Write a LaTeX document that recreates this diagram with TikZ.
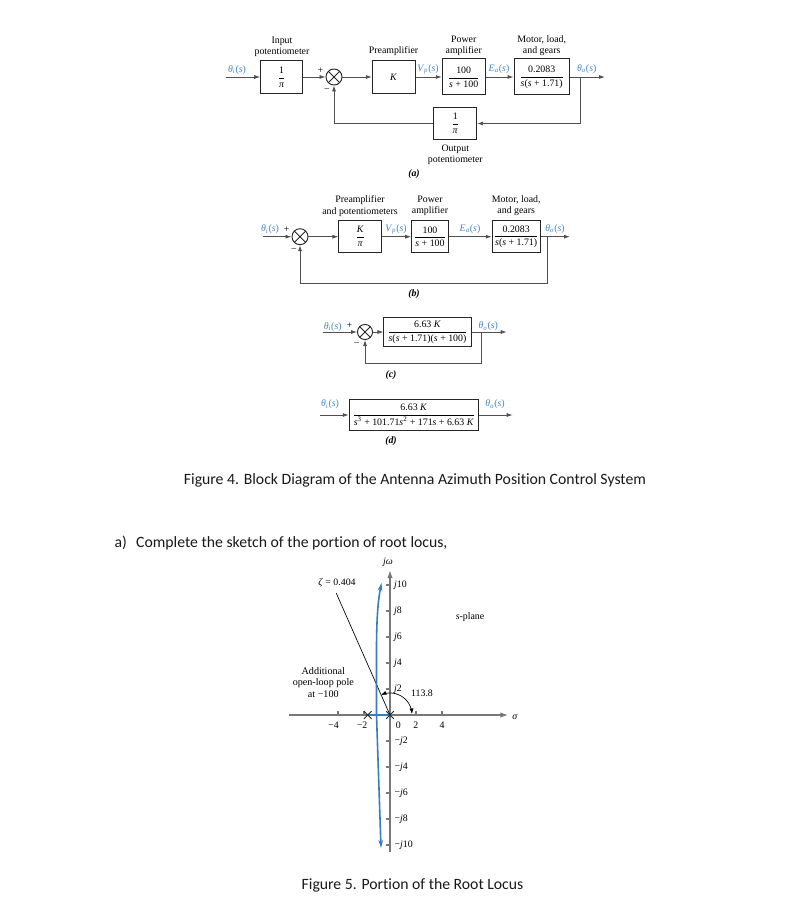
\documentclass[tikz,border=0pt]{standalone}
\usepackage{fontspec}
\setmainfont{Liberation Serif}
\newfontfamily\capfont[Ligatures={NoCommon}]{Carlito}
\usetikzlibrary{arrows.meta,shapes.misc}
\definecolor{sig}{RGB}{70,135,195}
\definecolor{loc}{RGB}{55,125,190}
\definecolor{conn}{RGB}{80,80,80}
\definecolor{axg}{RGB}{120,120,120}
\newcommand\sg[2]{\textcolor{sig}{\textit{#1}\textsubscript{\textit{#2}}(\textit{s})}}
\newcommand\fr[2]{$\displaystyle\frac{\mbox{#1}}{\mbox{#2}}$}
\tikzset{
  every node/.style={font=\fontsize{7.4}{8.6}\selectfont, inner sep=1pt},
  blk/.style={draw=black!85, line width=0.75pt, inner sep=1pt},
  lbl/.style={align=center, font=\fontsize{7.4}{8.4}\selectfont},
  sumj/.style={circle, draw=black!85, line width=0.7pt, minimum size=12pt, inner sep=0pt,
    path picture={\draw[black!85, line width=0.6pt]
      (path picture bounding box.north west) -- (path picture bounding box.south east)
      (path picture bounding box.north east) -- (path picture bounding box.south west);}},
  arr/.style={draw=conn, line width=0.6pt, -{Latex[length=4.5pt,width=3pt]}},
  ln/.style={draw=conn, line width=0.6pt},
  axis/.style={draw=axg, line width=1pt},
  pole/.style={cross out, draw=black!85, minimum size=5pt, inner sep=0pt, line width=0.7pt},
  locus/.style={draw=loc, line width=1.2pt},
  captxt/.style={font=\capfont\fontsize{11.8}{14}\selectfont, text=black!90},
}
\begin{document}
\begin{tikzpicture}[x=0.75pt,y=-0.75pt]
\fill[white] (0,0) rectangle (812,898);
\useasboundingbox (0,0) rectangle (812,898);

% ---------------- (a) ----------------
\node[blk, minimum width=31.5pt, minimum height=25pt] (ipot) at (281.7,77) {\fr{1}{\textit{π}}};
\node[sumj] (suma) at (334,77) {};
\node[blk, minimum width=32pt, minimum height=25pt] (pre) at (393.7,77) {\textit{K}};
\node[blk, minimum width=32pt, minimum height=27pt] (pamp) at (463.7,77) {\fr{100}{\textit{s} + 100}};
\node[blk, minimum width=41.5pt, minimum height=27pt] (mot) at (541.7,77) {\fr{0.2083}{\textit{s}(\textit{s} + 1.71)}};
\node[blk, minimum width=32pt, minimum height=24.5pt] (opot) at (455.3,123.5) {\fr{1}{\textit{π}}};
\coordinate (ain) at (226,77);
\coordinate (abr) at (580.7,77);
\coordinate (aout) at (605,77);
\draw[arr] (ain) -- (ipot);
\draw[arr] (ipot) -- (suma);
\draw[arr] (suma) -- (pre);
\draw[arr] (pre) -- (pamp);
\draw[arr] (pamp) -- (mot);
\draw[arr] (mot) -- (aout);
\draw[arr] (abr) |- (opot);
\draw[arr] (opot) -| (suma);
\node[lbl] (la1) at (282,46.5) {Input\\potentiometer};
\node[lbl] (la2) at (393.5,51.5) {Preamplifier};
\node[lbl] (la3) at (463.7,45.5) {Power\\amplifier};
\node[lbl] (la4) at (541.7,45.5) {Motor, load,\\and gears};
\node[lbl] (la5) at (455.3,154.5) {Output\\potentiometer};
\node (sa1) at (237,70) {\sg{θ}{i}};
\node (sa2) at (428,69) {\sg{V}{p}};
\node (sa3) at (499,69) {\sg{E}{a}};
\node (sa4) at (586.7,69) {\sg{θ}{o}};
\node (pa) at (320.5,70.5) {+};
\node (ma) at (327,90.5) {−};
\node (capa) at (414,174) {\textbf{\textit{(a)}}};

% ---------------- (b) ----------------
\node[sumj] (sumb) at (300,236.7) {};
\node[blk, minimum width=32pt, minimum height=23.7pt] (kb) at (360.3,236.7) {\fr{\textit{K}}{\textit{π}}};
\node[blk, minimum width=27.5pt, minimum height=23.7pt] (pab) at (430,236.7) {\fr{100}{\textit{s} + 100}};
\node[blk, minimum width=35.8pt, minimum height=23.7pt] (motb) at (516.2,236.7) {\fr{0.2083}{\textit{s}(\textit{s} + 1.71)}};
\coordinate (bin) at (262.7,236.7);
\coordinate (bbr) at (547.3,236.7);
\coordinate (bout) at (570,236.7);
\coordinate (bfb) at (547.3,283.3);
\draw[arr] (bin) -- (sumb);
\draw[arr] (sumb) -- (kb);
\draw[arr] (kb) -- (pab);
\draw[arr] (pab) -- (motb);
\draw[arr] (motb) -- (bout);
\draw[arr] (bbr) -- (bfb) -| (sumb);
\node[lbl] (lb1) at (360,206) {Preamplifier\\and potentiometers};
\node[lbl] (lb2) at (430,205.5) {Power\\amplifier};
\node[lbl] (lb3) at (516.2,205.5) {Motor, load,\\and gears};
\node (sb1) at (270,229.3) {\sg{θ}{i}};
\node (sb2) at (396,229) {\sg{V}{p}};
\node (sb3) at (470,229) {\sg{E}{a}};
\node (sb4) at (555,229) {\sg{θ}{o}};
\node (pb) at (286.7,229.5) {+};
\node (mb) at (294,250.5) {−};
\node (capb) at (414,294) {\textbf{\textit{(b)}}};

% ---------------- (c) ----------------
\node[sumj, minimum size=11.3pt] (sumc) at (365,332) {};
\node[blk, minimum width=65.3pt, minimum height=21.8pt] (gc) at (427.5,332) {\fr{6.63 \textit{K}}{\textit{s}(\textit{s} + 1.71)(\textit{s} + 100)}};
\coordinate (cin) at (323.3,332);
\coordinate (cbr) at (481.7,332);
\coordinate (cout) at (506.7,332);
\coordinate (cfb) at (481.7,363.3);
\draw[arr] (cin) -- (sumc);
\draw[arr] (sumc) -- (gc);
\draw[arr] (gc) -- (cout);
\draw[arr] (cbr) -- (cfb) -| (sumc);
\node (sc1) at (332.7,327) {\sg{θ}{i}};
\node (sc2) at (488.3,326.5) {\sg{θ}{o}};
\node (pc) at (349.3,326) {+};
\node (mc) at (356.7,344.3) {−};
\node (capc) at (391,375) {\textbf{\textit{(c)}}};

% ---------------- (d) ----------------
\node[blk, minimum width=96.8pt, minimum height=23.5pt] (gd) at (413.8,415) {\fr{6.63 \textit{K}}{\textit{s}\textsuperscript{3} + 101.71\textit{s}\textsuperscript{2} + 171\textit{s} + 6.63 \textit{K}}};
\coordinate (din) at (320,415);
\coordinate (dout) at (512.7,415);
\draw[arr] (din) -- (gd);
\draw[arr] (gd) -- (dout);
\node (sd1) at (330,404.3) {\sg{θ}{i}};
\node (sd2) at (495,404.3) {\sg{θ}{o}};
\node (capd) at (391,441) {\textbf{\textit{(d)}}};

% ---------------- captions ----------------
\node[captxt] (fig4) at (415,480) {Figure 4. Block Diagram of the Antenna Azimuth Position Control System};
\node[captxt, anchor=west] (qa) at (113,543.5) {a)\hspace{7pt}Complete the sketch of the portion of root locus,};
\node[captxt] (fig5) at (412.5,885) {Figure 5. Portion of the Root Locus};

% ---------------- root locus ----------------
\coordinate (O) at (390,715);
\draw[axis, -{Latex[length=6pt,width=4pt]}] (289.3,715) -- (508.3,715);
\draw[axis, -{Latex[length=6pt,width=4pt]}] (390,851.7) -- (390,570);
\foreach \k in {-4,-2,2,4} \draw[axis] ({390+13*\k},715) -- ({390+13*\k},711);
\foreach \k in {2,4,6,8,10} {
  \draw[axis] (386,{715-13*\k}) -- (390,{715-13*\k});
  \draw[axis] (386,{715+13*\k}) -- (390,{715+13*\k});
  \node[anchor=west] at (392.5,{715-13*\k}) {\textit{j}\k};
  \node[anchor=west] at (393,{715+13*\k}) {−\textit{j}\k};
}
\node (tm4) at (333.5,725) {−4};
\node (tm2) at (362,725) {−2};
\node (t0) at (398.3,725) {0};
\node (t2) at (415.8,725) {2};
\node (t4) at (442.2,725) {4};
\node (jw) at (388,562) {\textit{jω}};
\node (sig) at (515,716.5) {\textit{σ}};
\node (spl) at (470,617.3) {\textit{s}-plane};
\node (zet) at (337,583.3) {\textit{ζ} = 0.404};
\node[lbl, font=\fontsize{7.6}{8.8}\selectfont] (addp) at (323.3,682.3) {Additional\\open-loop pole\\at −100};
\node (ang) at (422,693) {113.8};
\draw[black, line width=0.5pt] (O) -- (336.3,593.3);
\draw[locus] (367.8,715) -- (O);
\coordinate (bk) at (376.5,715);
\draw[locus, -{Stealth[length=6pt,width=3.5pt]}] (bk) -- (376.5,650) .. controls (376.5,615) and (378.5,598) .. (381.5,583);
\draw[locus, -{Stealth[length=6pt,width=3.5pt]}] (bk) -- (381,848);
\draw[black, line width=0.5pt, {Latex[length=4pt,width=3pt]}-{Latex[length=4pt,width=3pt]}] plot[domain=113.8:3, samples=40] ({390+22*cos(\x)},{715-22*sin(\x)});
\node[pole] (p0) at (O) {};
\node[pole] (p1) at (367.8,715) {};
\end{tikzpicture}
\end{document}
